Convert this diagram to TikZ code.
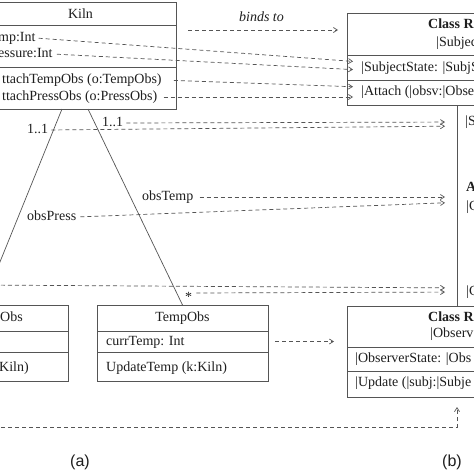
\documentclass[tikz,border=0pt]{standalone}
\usepackage{fontspec}
\setmainfont{Liberation Serif}
\newfontfamily\capsans{Liberation Sans}
\usepackage{tikz}
\usetikzlibrary{arrows.meta,calc}
\definecolor{umlgris}{RGB}{85,85,85}
\definecolor{umltexte}{RGB}{30,30,30}
\tikzset{
  umlpart/.style={
    rectangle, draw=umlgris, line width=0.8pt, anchor=north west,
    inner sep=0pt, outer sep=0pt, text=umltexte,
    font=\fontsize{14}{16}\selectfont
  },
  rowtext/.style={
    anchor=west, inner sep=0pt, text=umltexte,
    text height=10pt, text depth=3pt,
    font=\fontsize{14}{16}\selectfont
  },
  roletitle/.style={rowtext, font=\fontsize{14}{16}\selectfont\bfseries},
  bindarrow/.style={
    draw=umlgris, line width=0.7pt, dash pattern=on 4pt off 3pt,
    -{Straight Barb[length=4pt,width=5pt]}
  },
  assocline/.style={draw=umlgris, line width=0.7pt}
}

\begin{document}
\begin{tikzpicture}[x=1pt, y=-1pt]
  \useasboundingbox (0,0) rectangle (474,474);
  \fill[white] (0,0) rectangle (474,474);
  \clip (0,0) rectangle (474,474);

  % Kiln
  \node[umlpart, minimum width=191pt, minimum height=23pt] (kilnHead) at (-15,2) {Kiln};
  \node[umlpart, minimum width=191pt, minimum height=42pt] (kilnAttr) at (-15,25) {};
  \node[umlpart, minimum width=191pt, minimum height=42pt] (kilnOps)  at (-15,67) {};
  \node[rowtext] (kTemp)  at (-2,38) {mp:Int};
  \node[rowtext] (kPress) at (-2,54) {essure:Int};
  \node[rowtext] (kAttT)  at (2,80) {ttachTempObs (o:TempObs)};
  \node[rowtext] (kAttP)  at (2,97) {ttachPressObs (o:PressObs)};

  % Subject role
  \node[umlpart, minimum width=200pt, minimum height=42pt] (subjHead) at (347,13) {};
  \node[umlpart, minimum width=200pt, minimum height=25pt] (subjAttr) at (347,55) {};
  \node[umlpart, minimum width=200pt, minimum height=25pt] (subjOps)  at (347,80) {};
  \node[roletitle] (subjTitle) at (428,25) {Class R};
  \node[rowtext] (subjName) at (436,43) {|Subjec};
  \node[rowtext] (sState)   at (361,68) {|SubjectState: |SubjS};
  \node[rowtext] (sAttach)  at (361,92) {|Attach (|obsv:|Obse};

  % Observer role
  \node[umlpart, minimum width=200pt, minimum height=41pt] (obsvHead) at (347,306) {};
  \node[umlpart, minimum width=200pt, minimum height=24pt] (obsvAttr) at (347,347) {};
  \node[umlpart, minimum width=200pt, minimum height=26pt] (obsvOps)  at (347,371) {};
  \node[roletitle] (obsvTitle) at (428,318) {Class R};
  \node[rowtext] (obsvName) at (430,334) {|Observ};
  \node[rowtext] (oState)   at (355,359) {|ObserverState: |Obs};
  \node[rowtext] (oUpdate)  at (355,383) {|Update (|subj:|Subje};

  % Association between the roles
  \draw[assocline] ([xshift=110pt]subjOps.south west) -- ([xshift=110pt]obsvHead.north west);
  \node[rowtext] (aSubjEnd) at (465,122) {|S};
  \node[roletitle] (aName)  at (466,188) {A};
  \node[rowtext] (aObsvEnd) at (466,207) {|C};
  \node[rowtext] (aLowEnd)  at (466,292) {|C};

  % Observers
  \node[umlpart, minimum width=171pt, minimum height=26pt] (tempHead) at (97,305) {TempObs};
  \node[umlpart, minimum width=171pt, minimum height=21pt] (tempAttr) at (97,331) {};
  \node[umlpart, minimum width=171pt, minimum height=29pt] (tempOps)  at (97,352) {};
  \node[rowtext] (tCurr)   at (106,342) {currTemp: Int};
  \node[rowtext] (tUpdate) at (106,368) {UpdateTemp (k:Kiln)};

  \node[umlpart, minimum width=171pt, minimum height=26pt] (pressHead) at (-103,305) {};
  \node[umlpart, minimum width=171pt, minimum height=21pt] (pressAttr) at (-103,331) {};
  \node[umlpart, minimum width=171pt, minimum height=29pt] (pressOps)  at (-103,352) {};
  \node[rowtext, anchor=east] (pTitle)  at (23,318) {Obs};
  \node[rowtext, anchor=east] (pUpdate) at (29,368) {Kiln)};

  % Kiln -- observer links
  \draw[assocline] ([xshift=77pt]kilnOps.south west) -- (pressHead.north);
  \draw[assocline] ([xshift=103pt]kilnOps.south west) -- (tempHead.north);
  \node[rowtext] (multPress) at (27,130) {1..1};
  \node[rowtext] (multTemp)  at (102,123) {1..1};
  \node[rowtext] (roleTemp)  at (142,197) {obsTemp};
  \node[rowtext] (rolePress) at (27,217) {obsPress};
  \node[rowtext] (multStar)  at (185,298) {*};

  % Bindings
  \coordinate (bindFrom) at (188,30);
  \draw[bindarrow, shorten >=9pt] (bindFrom) --
    node[above=8pt, inner sep=0pt, xshift=-6pt, text=umltexte,
         font=\fontsize{14}{16}\selectfont\itshape] (bindLabel) {binds to}
    (bindFrom -| subjHead.west);

  \draw[bindarrow, shorten <=3pt, shorten >=8pt] (kTemp.east) -- ([yshift=6pt]sState.west);
  \draw[bindarrow, shorten <=4pt, shorten >=8pt] (kPress.east) -- ([yshift=-2pt]sState.west);
  \draw[bindarrow, shorten <=12pt, shorten >=8pt] (kAttT.east) -- ([yshift=5pt]sAttach.west);
  \draw[bindarrow, shorten <=6pt, shorten >=8pt] (kAttP.east) -- ([yshift=-5pt]sAttach.west);

  \draw[bindarrow, shorten <=3pt, shorten >=20pt] (multPress.east) -- ([yshift=-4pt]aSubjEnd.west);
  \draw[bindarrow, shorten <=3pt, shorten >=20pt] (multTemp.east) -- (aSubjEnd.west);
  \draw[bindarrow, shorten <=6pt, shorten >=21pt] (roleTemp.east) -- ([yshift=10pt]aObsvEnd.west);
  \draw[bindarrow, shorten <=4pt, shorten >=21pt] (rolePress.east) -- ([yshift=5pt]aObsvEnd.west);

  \coordinate (pressBind) at (-20,285);
  \draw[bindarrow, shorten >=21pt] (pressBind) -- ([yshift=4pt]aLowEnd.west);
  \draw[bindarrow, shorten <=4pt, shorten >=21pt] ([yshift=5pt]multStar.east) -- (aLowEnd.west);

  \draw[bindarrow, shorten <=7pt, shorten >=13pt] (tempAttr.east) -- (tempAttr.east -| obsvAttr.west);

  \coordinate (pressUpd) at (-20,427);
  \draw[bindarrow, shorten >=10pt] (pressUpd) -| ([xshift=110pt]obsvOps.south west);

  % Captions
  \node[text=umltexte, font=\capsans\fontsize{16}{18}\selectfont] (capA) at (80,462) {(a)};
  \node[text=umltexte, font=\capsans\fontsize{16}{18}\selectfont] (capB) at (452,462) {(b)};
\end{tikzpicture}
\end{document}
